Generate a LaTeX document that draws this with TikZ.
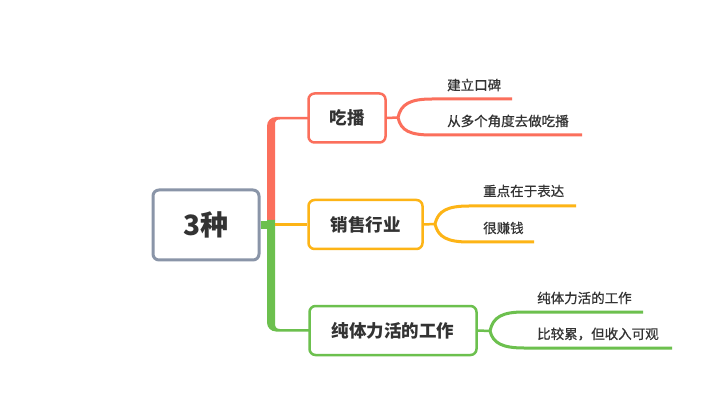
\documentclass[tikz,border=0pt]{standalone}
\usepackage{fontspec}
\setmainfont{Noto Sans CJK SC}
\newfontfamily\cjk{Noto Sans CJK SC}
\newfontfamily\cjksub[FakeBold=0.7]{Noto Sans CJK SC}
\definecolor{cred}{HTML}{FB6F5C}
\definecolor{cyel}{HTML}{FDB416}
\definecolor{cgrn}{HTML}{6CC04E}
\definecolor{cgray}{HTML}{8A95A8}
\definecolor{ctxt}{HTML}{333333}
\begin{document}
\begin{tikzpicture}[x=1pt,y=-1pt,
  topic/.style={draw,line width=2.5pt,rounded corners=6pt,minimum height=49pt,inner sep=0pt,text=ctxt,font=\cjk\bfseries\fontsize{17.5}{20}\selectfont},
  sub/.style={anchor=west,inner sep=0pt,text=ctxt,font=\cjksub\fontsize{13.5}{16}\selectfont},
  thin/.style={line width=2.5pt},
  fork/.style={line width=3pt}]
\useasboundingbox (0,0) rectangle (713,401);
\fill[white] (0,0) rectangle (713,401);
% root
\node[draw=cgray,line width=3pt,rounded corners=6pt,minimum width=106pt,minimum height=70pt,inner sep=0pt,text=ctxt,font=\cjk\bfseries\fontsize{28}{32}\selectfont] (root) at (206,225) {3种};
% topics
\node[topic,draw=cred,minimum width=77pt] (t1) at (347,118) {吃播};
\node[topic,draw=cyel,minimum width=114pt] (t2) at (365.5,224.5) {销售行业};
\node[topic,draw=cgrn,minimum width=167pt] (t3) at (393,330.5) {纯体力活的工作};
% trunk
\fill[cred] (267,220) -- (267,126) arc[start angle=180,end angle=270,radius=9] -- (308,117) -- (308,119.5) -- (280,119.5) .. controls (276,119.5) and (275,121) .. (275,125) -- (275,220) -- cycle;
\fill[cgrn] (267,220) -- (267,322.5) arc[start angle=180,end angle=90,radius=9] -- (309,331.5) -- (309,329) -- (280,329) .. controls (276,329) and (275,327) .. (275,323) -- (275,220) -- cycle;
\draw[cgrn,line width=8pt] (root.east) -- (267,225);
\draw[cyel,thin] (275,224.5) -- (t2.west);
% fork coordinates
\coordinate (f1) at (398,117.5);
\coordinate (f2) at (435,224);
\coordinate (f3) at (490,331);
\coordinate (e11) at (512,99);
\coordinate (e12) at (582,135);
\coordinate (e21) at (576,206);
\coordinate (e22) at (534,242);
\coordinate (e31) at (643,312);
\coordinate (e32) at (672,348);
\draw[cred,thin] (t1.east) -- (f1);
\draw[cred,fork] (f1) .. controls (401,104) and (410,99) .. (432,99) -- (e11);
\draw[cred,fork] (f1) .. controls (401,131) and (410,135) .. (432,135) -- (e12);
\draw[cyel,thin] (t2.east) -- (f2);
\draw[cyel,fork] (f2) .. controls (438,211) and (447,206) .. (469,206) -- (e21);
\draw[cyel,fork] (f2) .. controls (438,237) and (447,242) .. (469,242) -- (e22);
\draw[cgrn,thin] (t3.east) -- (f3);
\draw[cgrn,fork] (f3) .. controls (493,317) and (502,312) .. (524,312) -- (e31);
\draw[cgrn,fork] (f3) .. controls (493,343) and (502,348) .. (524,348) -- (e32);
% sub texts
\node[sub] (s11) at (447,85) {建立口碑};
\node[sub] (s12) at (447,121) {从多个角度去做吃播};
\node[sub] (s21) at (483,191) {重点在于表达};
\node[sub] (s22) at (483,228) {很赚钱};
\node[sub] (s31) at (537,298) {纯体力活的工作};
\node[sub] (s32) at (537,334) {比较累，但收入可观};
\end{tikzpicture}
\end{document}
